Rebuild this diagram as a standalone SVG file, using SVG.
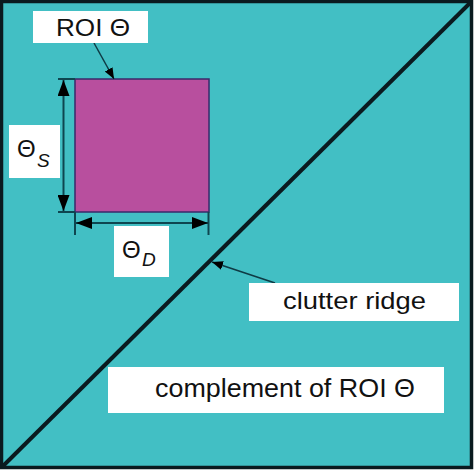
<svg xmlns="http://www.w3.org/2000/svg" width="474" height="470" viewBox="0 0 474 470">
<style>
.lbl{fill:#fff}
.t{font-family:"Liberation Sans",Arial,sans-serif;fill:#111}
.sub{font-style:italic;font-size:19px}
.dim{stroke:#0e4650;stroke-width:2;fill:none}
.ptr{stroke:#0e3a44;stroke-width:1.5;fill:none}
</style>
<defs>
<marker id="ah" viewBox="0 0 10 10" refX="10" refY="5" markerWidth="11" markerHeight="11" markerUnits="userSpaceOnUse" orient="auto-start-reverse">
<path d="M0,1 L10,5 L0,9 Z" fill="#000"/>
</marker>
<marker id="dh" viewBox="0 0 16 12" refX="16" refY="6" markerWidth="16" markerHeight="12" markerUnits="userSpaceOnUse" orient="auto-start-reverse">
<path d="M0,0 L16,6 L0,12 Z" fill="#000"/>
</marker>
</defs>
<g id="background">
<rect x="1.5" y="1.5" width="470" height="466" fill="#42bfc4" stroke="#0a1a1f" stroke-width="3.5"/>
</g>
<g id="ridge">
<line x1="2" y1="467" x2="471" y2="2" stroke="#0a1a1f" stroke-width="4"/>
</g>
<g id="roi">
<rect x="75" y="79" width="134" height="133" fill="#b84f9e" stroke="#3a2a6a" stroke-width="1.5"/>
</g>
<g id="connectors">
<line class="dim" x1="58" y1="79" x2="75" y2="79"/>
<line class="dim" x1="58" y1="212" x2="75" y2="212"/>
<line class="dim" x1="63.5" y1="80" x2="63.5" y2="211" marker-start="url(#dh)" marker-end="url(#dh)"/>
<line class="dim" x1="75" y1="212" x2="75" y2="235"/>
<line class="dim" x1="208.5" y1="212" x2="208.5" y2="235"/>
<line class="dim" x1="76" y1="223" x2="208" y2="223" marker-start="url(#dh)" marker-end="url(#dh)"/>
<line class="ptr" x1="94" y1="43" x2="114" y2="79" marker-end="url(#ah)"/>
<line class="ptr" x1="275" y1="283" x2="212" y2="262" marker-end="url(#ah)"/>
</g>
<g id="label-roi">
<rect class="lbl" x="33" y="11" width="115" height="32"/>
<text class="t" x="56" y="36" font-size="23" textLength="74" lengthAdjust="spacingAndGlyphs">ROI Θ</text>
</g>
<g id="label-thetaS">
<rect class="lbl" x="9" y="125" width="51" height="53"/>
<text class="t" x="17" y="157" font-size="24">Θ<tspan class="sub" x="37" y="167">S</tspan></text>
</g>
<g id="label-thetaD">
<rect class="lbl" x="114" y="226" width="55" height="51"/>
<text class="t" x="122" y="258" font-size="24">Θ<tspan class="sub" x="142" y="266">D</tspan></text>
</g>
<g id="label-clutter">
<rect class="lbl" x="249" y="283" width="210" height="38"/>
<text class="t" x="283" y="309" font-size="24" textLength="143" lengthAdjust="spacingAndGlyphs">clutter ridge</text>
</g>
<g id="label-complement">
<rect class="lbl" x="108" y="367" width="336" height="46"/>
<text class="t" x="155" y="397" font-size="25" textLength="260" lengthAdjust="spacingAndGlyphs">complement of ROI Θ</text>
</g>
</svg>
